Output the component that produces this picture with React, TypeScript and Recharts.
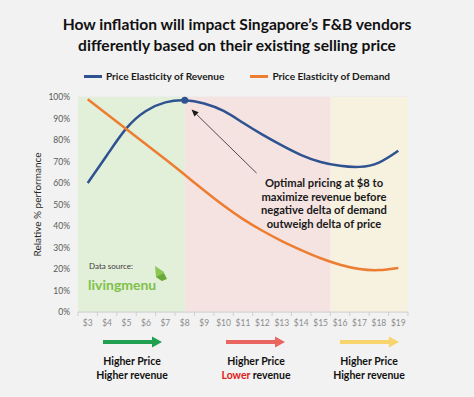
import { CartesianGrid, Line, LineChart, ReferenceArea, ReferenceDot, ReferenceLine, XAxis, YAxis } from "recharts";

const prices = [3, 4, 5, 6, 7, 8, 9, 10, 11, 12, 13, 14, 15, 16, 17, 18, 19];
const revenue = [60, 73, 85.5, 93.5, 97.5, 98.5, 97, 93.5, 88, 82.5, 77.5, 73, 69.8, 68, 67.5, 69.5, 75];
const demand = [99, 92, 85, 78, 71, 63.8, 56.5, 49.5, 43.2, 37.8, 33, 28.8, 25, 22, 20, 19.5, 20.5];
const yTicks = [0, 10, 20, 30, 40, 50, 60, 70, 80, 90, 100];

const zones = [
  { from: 2.5, to: 8, fill: "#e2efd9" },
  { from: 8, to: 15.5, fill: "#f5e3e1" },
  { from: 15.5, to: 19.5, fill: "#f7f1e0" },
];

const series = [
  { key: "revenue", name: "Price Elasticity of Revenue", color: "#2f5290" },
  { key: "demand", name: "Price Elasticity of Demand", color: "#ed7d31" },
];

const data = prices.map((p, i) => ({ price: p, revenue: revenue[i], demand: demand[i] }));
const xTicks = [...prices.flatMap((p) => [p - 0.5, p]), prices[prices.length - 1] + 0.5];

const peakIdx = revenue.indexOf(Math.max(...revenue));
const peak = { x: prices[peakIdx], y: revenue[peakIdx] };
const pointer = [
  { x: 11.7, y: 64.6 },
  { x: peak.x + 0.35, y: peak.y - 4.3 },
];

const font = "Lato, 'Open Sans', sans-serif";

function XTick(props: any) {
  const { x, y, payload } = props;
  const v = payload.value;
  if (Number.isInteger(v)) {
    return (
      <text x={x} y={y} dy="0.71em" textAnchor="middle" fill="#8c8c8c" fontSize={8.5} fontFamily={font}>
        ${v}
      </text>
    );
  }
  return <line x1={x} x2={x} y1={y - 8} y2={y - 4} stroke="#cfcfcf" />;
}

function Pointer(props: any) {
  const { x1, y1, x2, y2 } = props;
  if (x1 == null) return null;
  const a = Math.atan2(y2 - y1, x2 - x1);
  const L = 7;
  const w = 3;
  const bx = x2 - L * Math.cos(a);
  const by = y2 - L * Math.sin(a);
  const pts = `${x2},${y2} ${bx + w * Math.sin(a)},${by - w * Math.cos(a)} ${bx - w * Math.sin(a)},${by + w * Math.cos(a)}`;
  return (
    <g>
      <line x1={x1} y1={y1} x2={bx} y2={by} stroke="#3a3a3a" strokeWidth={0.9} />
      <polygon points={pts} fill="#1a1a1a" />
    </g>
  );
}

function BottomArrow({ x, color }: { x: number; color: string }) {
  return (
    <g>
      <line x1={x} y1={342} x2={x + 50} y2={342} stroke={color} strokeWidth={4} />
      <polygon points={`${x + 59},342 ${x + 49},336.5 ${x + 49},347.5`} fill={color} />
    </g>
  );
}

export default function App() {
  return (
    <div style={{ position: "absolute", left: 0, top: 0, width: 474, height: 397, background: "#f2f2f2", fontFamily: font }}>
      <div style={{ position: "absolute", top: 14, left: 0, width: 474, textAlign: "center", fontWeight: 700, fontSize: 15.6, lineHeight: "21px", color: "#111" }}>
        How inflation will impact Singapore’s F&amp;B vendors
        <br />
        differently based on their existing selling price
      </div>

      <div style={{ position: "absolute", top: 70, left: 0, width: 474, display: "flex", justifyContent: "center", gap: 26, fontSize: 10.1, fontWeight: 700, color: "#1a1a1a" }}>
        {series.map((s) => (
          <div key={s.key} style={{ display: "flex", alignItems: "center", gap: 4 }}>
            <span style={{ display: "inline-block", width: 18, height: 3, background: s.color }} />
            <span>{s.name}</span>
          </div>
        ))}
      </div>

      <LineChart width={474} height={397} data={data} margin={{ top: 97, right: 66, bottom: 55, left: 0 }} style={{ position: "absolute", left: 0, top: 0 }}>
        {zones.map((z) => (
          <ReferenceArea key={z.from} x1={z.from} x2={z.to} y1={0} y2={100} fill={z.fill} fillOpacity={1} stroke="none" ifOverflow="extendDomain" />
        ))}
        <CartesianGrid vertical={false} stroke="#e2dcdc" strokeOpacity={0.6} />
        <XAxis
          dataKey="price"
          type="number"
          domain={[2.5, 19.5]}
          ticks={xTicks}
          interval={0}
          tick={<XTick />}
          tickLine={false}
          tickSize={4}
          tickMargin={4}
          axisLine={{ stroke: "#d0d0d0" }}
        />
        <YAxis
          width={78}
          domain={[0, 100]}
          ticks={yTicks}
          tickFormatter={(v) => `${v}%`}
          tick={{ fill: "#595959", fontSize: 8.5, fontFamily: font }}
          tickLine={false}
          axisLine={false}
          label={{ value: "Relative % performance", angle: -90, position: "center", dx: -2, fill: "#262626", fontSize: 10, fontFamily: font }}
        />
        {series.map((s) => (
          <Line key={s.key} type="natural" dataKey={s.key} stroke={s.color} strokeWidth={2.5} dot={false} isAnimationActive={false} />
        ))}
        <ReferenceDot x={peak.x} y={peak.y} r={3.5} fill="#2f5290" stroke="none" />
        <ReferenceLine segment={pointer} shape={<Pointer />} />
      </LineChart>

      <div style={{ position: "absolute", left: 249, top: 176, width: 150, textAlign: "center", fontWeight: 700, fontSize: 11.2, lineHeight: "13.7px", color: "#1a1a1a" }}>
        Optimal pricing at $8 to
        <br />
        maximize revenue before
        <br />
        negative delta of demand
        <br />
        outweigh delta of price
      </div>

      <div style={{ position: "absolute", left: 89, top: 261, fontSize: 8, color: "#404040" }}>Data source:</div>
      <div style={{ position: "absolute", left: 88, top: 276, fontSize: 14, fontWeight: 700, color: "#7fc04a" }}>livingmenu</div>
      <svg width={474} height={397} style={{ position: "absolute", left: 0, top: 0, pointerEvents: "none" }}>
        <path d="M155,266 L164,272 L162,281 L156,277 Z" fill="#8cc653" />
        <path d="M156,277 L162,281 L167,279 L164,273 Z" fill="#6aaa3a" />
        <BottomArrow x={103} color="#22a052" />
        <BottomArrow x={226} color="#e8665f" />
        <BottomArrow x={340} color="#f8d46c" />
      </svg>

      {[
        { cx: 132, word: "Higher", color: "#111" },
        { cx: 256, word: "Lower", color: "#e0201b" },
        { cx: 369, word: "Higher", color: "#111" },
      ].map((b) => (
        <div key={b.cx} style={{ position: "absolute", left: b.cx - 60, top: 354, width: 120, textAlign: "center", fontWeight: 700, fontSize: 10.5, lineHeight: "14px", color: "#111" }}>
          Higher Price
          <br />
          <span style={{ color: b.color }}>{b.word}</span> revenue
        </div>
      ))}
    </div>
  );
}
